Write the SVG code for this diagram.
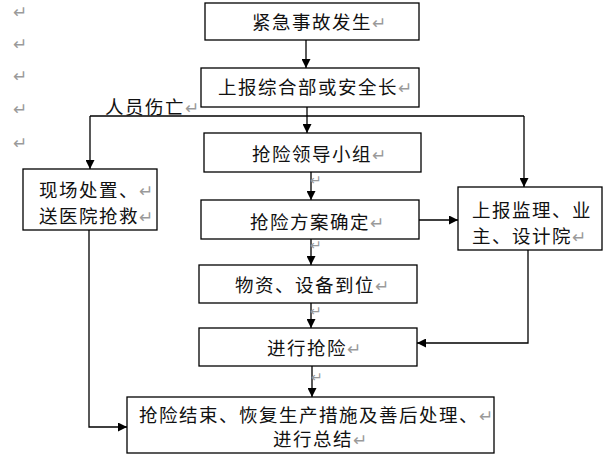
<svg xmlns="http://www.w3.org/2000/svg" width="615" height="464" viewBox="0 0 615 464">
<style>
.box{fill:#fff;stroke:#000;stroke-width:1.3}
.t{font-family:"Noto Sans CJK SC","Liberation Serif",serif;font-size:18.5px;letter-spacing:1.5px;fill:#111}
.pm{font-family:"DejaVu Sans",sans-serif;font-size:17px;fill:#9a9a9a;letter-spacing:0}
.sm{font-size:14px}
.c{fill:none;stroke:#000;stroke-width:1.3}
</style>
<defs>
<marker id="ah" viewBox="0 0 10 10" refX="10" refY="5" markerWidth="10" markerHeight="9" markerUnits="userSpaceOnUse" orient="auto">
<path d="M0,0 L10,5 L0,10 Z" fill="#000"/>
</marker>
</defs>
<rect width="615" height="464" fill="#fff"/>
<g id="margin-marks">
<text class="pm" x="13" y="18">↵</text>
<text class="pm" x="13" y="50">↵</text>
<text class="pm" x="13" y="82">↵</text>
<text class="pm" x="13" y="115">↵</text>
<text class="pm" x="13" y="149">↵</text>
</g>
<g id="connectors">
<path class="c" d="M306,40 V68" marker-end="url(#ah)"/>
<path class="c" d="M307,107 V133" marker-end="url(#ah)"/>
<path class="c" d="M90,116 H524"/>
<path class="c" d="M90,116 V169" marker-end="url(#ah)"/>
<path class="c" d="M524,116 V187" marker-end="url(#ah)"/>
<path class="c" d="M311,172 V200" marker-end="url(#ah)"/>
<path class="c" d="M311,239 V265" marker-end="url(#ah)"/>
<path class="c" d="M311,303 V328" marker-end="url(#ah)"/>
<path class="c" d="M312,366 V397" marker-end="url(#ah)"/>
<path class="c" d="M419,220 H458" marker-end="url(#ah)"/>
<path class="c" d="M528,250 V343 H417" marker-end="url(#ah)"/>
<path class="c" d="M89,230 V427 H127" marker-end="url(#ah)"/>
<text class="pm sm" x="310" y="185">↵</text>
<text class="pm sm" x="310" y="250">↵</text>
<text class="pm sm" x="310" y="316">↵</text>
<text class="pm sm" x="311" y="382">↵</text>
</g>
<g id="label-injury">
<text class="t" x="105" y="114">人员伤亡<tspan class="pm">↵</tspan></text>
</g>
<g id="n1">
<rect class="box" x="205" y="3" width="214" height="37"/>
<text class="t" x="252" y="29">紧急事故发生<tspan class="pm">↵</tspan></text>
</g>
<g id="n2">
<rect class="box" x="201" y="68" width="218" height="39"/>
<text class="t" x="218" y="94">上报综合部或安全长<tspan class="pm">↵</tspan></text>
</g>
<g id="n3">
<rect class="box" x="204" y="133" width="217" height="39"/>
<text class="t" x="252" y="161">抢险领导小组<tspan class="pm">↵</tspan></text>
</g>
<g id="n4">
<rect class="box" x="201" y="200" width="218" height="39"/>
<text class="t" x="250" y="229">抢险方案确定<tspan class="pm">↵</tspan></text>
</g>
<g id="n5">
<rect class="box" x="199" y="265" width="218" height="38"/>
<text class="t" x="235" y="292">物资、设备到位<tspan class="pm">↵</tspan></text>
</g>
<g id="n6">
<rect class="box" x="199" y="328" width="218" height="38"/>
<text class="t" x="267" y="355">进行抢险<tspan class="pm">↵</tspan></text>
</g>
<g id="n7">
<rect class="box" x="127" y="397" width="367" height="56"/>
<text class="t" x="139" y="422">抢险结束、恢复生产措施及善后处理、<tspan class="pm">↵</tspan></text>
<text class="t" x="273" y="446">进行总结<tspan class="pm">↵</tspan></text>
</g>
<g id="n-left">
<rect class="box" x="23" y="169" width="134" height="61"/>
<text class="t" x="39" y="197">现场处置、<tspan class="pm">↵</tspan></text>
<text class="t" x="39" y="223">送医院抢救<tspan class="pm">↵</tspan></text>
</g>
<g id="n-right">
<rect class="box" x="458" y="187" width="144" height="63"/>
<text class="t" x="472" y="217">上报监理、业</text>
<text class="t" x="472" y="243">主、设计院<tspan class="pm">↵</tspan></text>
</g>
</svg>
